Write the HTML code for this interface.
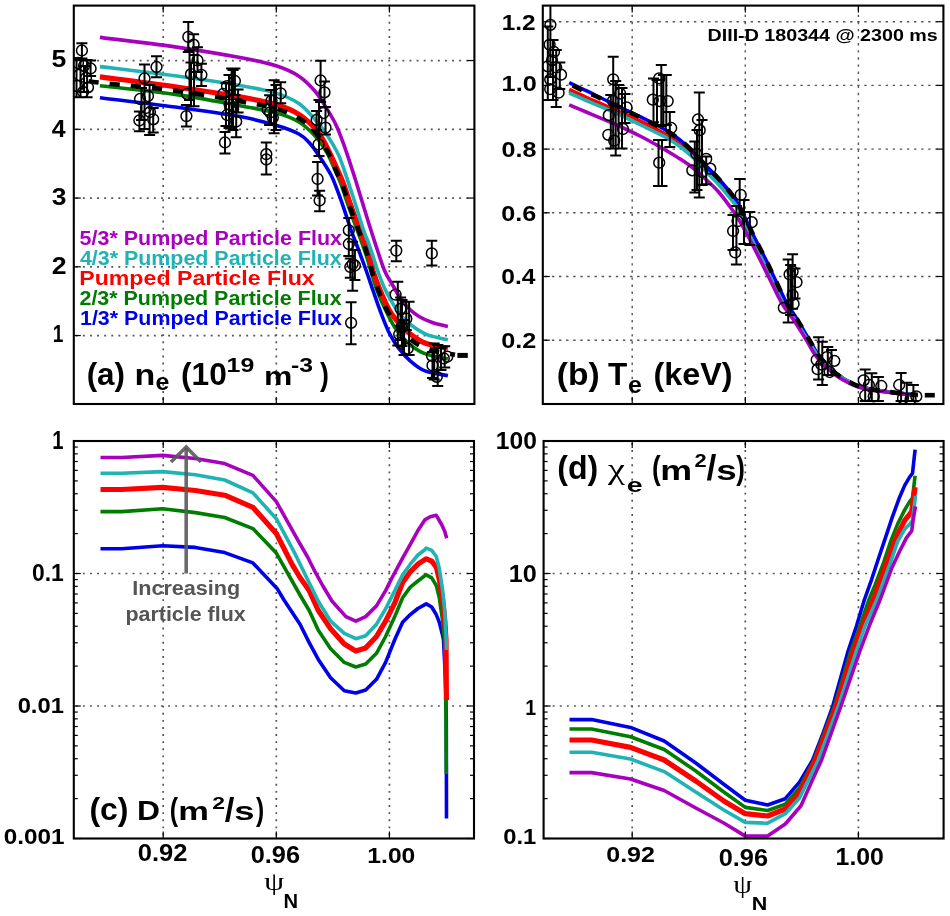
<!DOCTYPE html>
<html><head><meta charset="utf-8"><style>
html,body{margin:0;padding:0;background:#fff;width:950px;height:916px;overflow:hidden}
svg{display:block;filter:blur(0.35px)}

</style></head><body>
<svg width="950" height="916" viewBox="0 0 950 916">
<defs>
<clipPath id="clipa"><rect x="73.8" y="5.6" width="400.59999999999997" height="398.4"/></clipPath>
<clipPath id="clipb"><rect x="542.8" y="5.6" width="400.6" height="398.4"/></clipPath>
<clipPath id="clipc"><rect x="73.8" y="441.0" width="400.2" height="397.5"/></clipPath>
<clipPath id="clipd"><rect x="543.6" y="441.0" width="400.0" height="397.5"/></clipPath>
</defs>
<rect width="950" height="916" fill="#fff"/>
<line x1="163.20" y1="7.6" x2="163.20" y2="402.0" stroke="#555" stroke-width="1.7" stroke-dasharray="1.9 5.2" fill="none"/>
<line x1="276.30" y1="7.6" x2="276.30" y2="402.0" stroke="#555" stroke-width="1.7" stroke-dasharray="1.9 5.2" fill="none"/>
<line x1="389.40" y1="7.6" x2="389.40" y2="402.0" stroke="#555" stroke-width="1.7" stroke-dasharray="1.9 5.2" fill="none"/>
<line x1="75.8" y1="335.55" x2="472.4" y2="335.55" stroke="#555" stroke-width="1.7" stroke-dasharray="1.9 5.2" fill="none"/>
<line x1="75.8" y1="266.80" x2="472.4" y2="266.80" stroke="#555" stroke-width="1.7" stroke-dasharray="1.9 5.2" fill="none"/>
<line x1="75.8" y1="198.05" x2="472.4" y2="198.05" stroke="#555" stroke-width="1.7" stroke-dasharray="1.9 5.2" fill="none"/>
<line x1="75.8" y1="129.30" x2="472.4" y2="129.30" stroke="#555" stroke-width="1.7" stroke-dasharray="1.9 5.2" fill="none"/>
<line x1="75.8" y1="60.55" x2="472.4" y2="60.55" stroke="#555" stroke-width="1.7" stroke-dasharray="1.9 5.2" fill="none"/>
<line x1="632.20" y1="7.6" x2="632.20" y2="402.0" stroke="#555" stroke-width="1.4" stroke-dasharray="2.4 4.7" fill="none"/>
<line x1="745.30" y1="7.6" x2="745.30" y2="402.0" stroke="#555" stroke-width="1.4" stroke-dasharray="2.4 4.7" fill="none"/>
<line x1="858.40" y1="7.6" x2="858.40" y2="402.0" stroke="#555" stroke-width="1.4" stroke-dasharray="2.4 4.7" fill="none"/>
<line x1="544.8" y1="340.20" x2="941.4" y2="340.20" stroke="#555" stroke-width="1.4" stroke-dasharray="2.4 4.7" fill="none"/>
<line x1="544.8" y1="276.50" x2="941.4" y2="276.50" stroke="#555" stroke-width="1.4" stroke-dasharray="2.4 4.7" fill="none"/>
<line x1="544.8" y1="212.80" x2="941.4" y2="212.80" stroke="#555" stroke-width="1.4" stroke-dasharray="2.4 4.7" fill="none"/>
<line x1="544.8" y1="149.10" x2="941.4" y2="149.10" stroke="#555" stroke-width="1.4" stroke-dasharray="2.4 4.7" fill="none"/>
<line x1="544.8" y1="85.40" x2="941.4" y2="85.40" stroke="#555" stroke-width="1.4" stroke-dasharray="2.4 4.7" fill="none"/>
<line x1="544.8" y1="21.70" x2="941.4" y2="21.70" stroke="#555" stroke-width="1.4" stroke-dasharray="2.4 4.7" fill="none"/>
<line x1="163.20" y1="443.0" x2="163.20" y2="836.5" stroke="#555" stroke-width="1.7" stroke-dasharray="1.9 5.2" fill="none"/>
<line x1="276.30" y1="443.0" x2="276.30" y2="836.5" stroke="#555" stroke-width="1.7" stroke-dasharray="1.9 5.2" fill="none"/>
<line x1="389.40" y1="443.0" x2="389.40" y2="836.5" stroke="#555" stroke-width="1.7" stroke-dasharray="1.9 5.2" fill="none"/>
<line x1="75.8" y1="573.50" x2="472.0" y2="573.50" stroke="#555" stroke-width="1.7" stroke-dasharray="1.9 5.2" fill="none"/>
<line x1="75.8" y1="706.00" x2="472.0" y2="706.00" stroke="#555" stroke-width="1.7" stroke-dasharray="1.9 5.2" fill="none"/>
<line x1="632.20" y1="443.0" x2="632.20" y2="836.5" stroke="#555" stroke-width="1.7" stroke-dasharray="1.9 5.2" fill="none"/>
<line x1="745.30" y1="443.0" x2="745.30" y2="836.5" stroke="#555" stroke-width="1.7" stroke-dasharray="1.9 5.2" fill="none"/>
<line x1="858.40" y1="443.0" x2="858.40" y2="836.5" stroke="#555" stroke-width="1.7" stroke-dasharray="1.9 5.2" fill="none"/>
<line x1="545.6" y1="573.50" x2="941.6" y2="573.50" stroke="#555" stroke-width="1.7" stroke-dasharray="1.9 5.2" fill="none"/>
<line x1="545.6" y1="706.00" x2="941.6" y2="706.00" stroke="#555" stroke-width="1.7" stroke-dasharray="1.9 5.2" fill="none"/>
<path d="M99.90,97.70 C112.42,99.25 151.65,103.85 175.00,107.00 C198.35,110.15 223.17,113.55 240.00,116.60 C256.83,119.65 266.18,122.40 276.00,125.30 C285.82,128.20 293.23,130.97 298.90,134.00 C304.57,137.03 306.40,139.50 310.00,143.50 C313.60,147.50 317.00,152.75 320.50,158.00 C324.00,163.25 328.17,169.55 331.00,175.00 C333.83,180.45 335.32,185.02 337.50,190.70 C339.68,196.38 341.85,202.55 344.10,209.10 C346.35,215.65 348.77,223.68 351.00,230.00 C353.23,236.32 355.00,240.33 357.50,247.00 C360.00,253.67 363.38,262.67 366.00,270.00 C368.62,277.33 370.70,283.83 373.20,291.00 C375.70,298.17 378.28,305.92 381.00,313.00 C383.72,320.08 386.57,327.65 389.50,333.50 C392.43,339.35 395.07,343.47 398.60,348.10 C402.13,352.73 406.28,357.50 410.70,361.30 C415.12,365.10 418.90,368.50 425.10,370.90 C431.30,373.30 444.10,374.90 447.90,375.70" fill="none" stroke="#0000e8" stroke-width="3.6" stroke-linejoin="round" stroke-linecap="butt" clip-path="url(#clipa)"/>
<path d="M99.90,85.70 C112.42,87.15 151.65,91.07 175.00,94.40 C198.35,97.73 223.17,102.63 240.00,105.70 C256.83,108.77 266.18,110.08 276.00,112.80 C285.82,115.52 292.35,118.10 298.90,122.00 C305.45,125.90 310.62,131.07 315.30,136.20 C319.98,141.33 323.73,147.20 327.00,152.80 C330.27,158.40 332.48,164.35 334.90,169.80 C337.32,175.25 339.53,180.27 341.50,185.50 C343.47,190.73 344.73,195.52 346.70,201.20 C348.67,206.88 350.75,212.62 353.30,219.60 C355.85,226.58 359.67,236.57 362.00,243.10 C364.33,249.63 365.88,254.32 367.30,258.80 C368.72,263.28 368.88,264.73 370.50,270.00 C372.12,275.27 374.52,283.78 377.00,290.40 C379.48,297.02 382.40,303.48 385.40,309.70 C388.40,315.92 391.38,322.30 395.00,327.70 C398.62,333.10 402.88,338.10 407.10,342.10 C411.32,346.10 416.10,349.40 420.30,351.70 C424.50,354.00 427.70,354.70 432.30,355.90 C436.90,357.10 445.30,358.40 447.90,358.90" fill="none" stroke="#007d00" stroke-width="3.6" stroke-linejoin="round" stroke-linecap="butt" clip-path="url(#clipa)"/>
<path d="M99.90,76.90 C112.42,78.55 151.65,83.47 175.00,86.80 C198.35,90.13 223.17,93.93 240.00,96.90 C256.83,99.87 266.18,101.68 276.00,104.60 C285.82,107.52 292.35,110.40 298.90,114.40 C305.45,118.40 311.45,124.67 315.30,128.60 C319.15,132.53 319.60,133.97 322.00,138.00 C324.40,142.03 327.12,147.50 329.70,152.80 C332.28,158.10 335.10,164.35 337.50,169.80 C339.90,175.25 342.13,180.27 344.10,185.50 C346.07,190.73 347.33,195.52 349.30,201.20 C351.27,206.88 353.33,212.62 355.90,219.60 C358.47,226.58 362.37,236.57 364.70,243.10 C367.03,249.63 368.52,254.15 369.90,258.80 C371.28,263.45 371.35,265.88 373.00,271.00 C374.65,276.12 377.13,283.05 379.80,289.50 C382.47,295.95 385.87,304.13 389.00,309.70 C392.13,315.27 395.38,319.10 398.60,322.90 C401.82,326.70 404.28,329.30 408.30,332.50 C412.32,335.70 418.25,339.88 422.70,342.10 C427.15,344.32 430.80,344.80 435.00,345.80 C439.20,346.80 445.75,347.72 447.90,348.10" fill="none" stroke="#ff0000" stroke-width="5.2" stroke-linejoin="round" stroke-linecap="butt" clip-path="url(#clipa)"/>
<path d="M99.90,66.60 C112.42,68.13 151.65,72.65 175.00,75.80 C198.35,78.95 223.17,82.62 240.00,85.50 C256.83,88.38 266.18,90.10 276.00,93.10 C285.82,96.10 292.35,99.05 298.90,103.50 C305.45,107.95 310.62,114.55 315.30,119.80 C319.98,125.05 323.30,129.50 327.00,135.00 C330.70,140.50 334.65,147.00 337.50,152.80 C340.35,158.60 341.27,161.73 344.10,169.80 C346.93,177.87 351.27,191.17 354.50,201.20 C357.73,211.23 361.15,223.02 363.50,230.00 C365.85,236.98 366.88,238.30 368.60,243.10 C370.32,247.90 372.15,253.82 373.80,258.80 C375.45,263.78 376.77,268.22 378.50,273.00 C380.23,277.78 382.05,282.80 384.20,287.50 C386.35,292.20 388.60,296.50 391.40,301.20 C394.20,305.90 397.38,311.48 401.00,315.70 C404.62,319.92 408.68,323.30 413.10,326.50 C417.52,329.70 421.70,332.68 427.50,334.90 C433.30,337.12 444.50,338.98 447.90,339.80" fill="none" stroke="#1fb3b3" stroke-width="3.6" stroke-linejoin="round" stroke-linecap="butt" clip-path="url(#clipa)"/>
<path d="M99.90,37.40 C112.42,38.98 151.65,43.53 175.00,46.90 C198.35,50.27 223.17,54.45 240.00,57.60 C256.83,60.75 266.18,62.70 276.00,65.80 C285.82,68.90 292.35,71.92 298.90,76.20 C305.45,80.48 310.68,86.13 315.30,91.50 C319.92,96.87 323.07,102.65 326.60,108.40 C330.13,114.15 333.15,118.60 336.50,126.00 C339.85,133.40 343.25,142.88 346.70,152.80 C350.15,162.72 353.72,174.37 357.20,185.50 C360.68,196.63 364.62,210.00 367.60,219.60 C370.58,229.20 372.28,234.62 375.10,243.10 C377.92,251.58 381.68,263.68 384.50,270.50 C387.32,277.32 389.42,279.50 392.00,284.00 C394.58,288.50 397.28,293.50 400.00,297.50 C402.72,301.50 405.13,304.83 408.30,308.00 C411.47,311.17 415.00,314.08 419.00,316.50 C423.00,318.92 427.48,320.83 432.30,322.50 C437.12,324.17 445.30,325.83 447.90,326.50" fill="none" stroke="#a800bf" stroke-width="3.6" stroke-linejoin="round" stroke-linecap="butt" clip-path="url(#clipa)"/>
<path d="M88.70,81.20 C90.57,81.45 85.52,81.13 99.90,82.70 C114.28,84.27 151.65,87.50 175.00,90.60 C198.35,93.70 223.17,98.28 240.00,101.30 C256.83,104.32 266.18,105.88 276.00,108.70 C285.82,111.52 292.35,114.25 298.90,118.20 C305.45,122.15 310.28,126.43 315.30,132.40 C320.32,138.37 325.55,147.65 329.00,154.00 C332.45,160.35 333.70,165.17 336.00,170.50 C338.30,175.83 340.80,180.88 342.80,186.00 C344.80,191.12 346.03,195.60 348.00,201.20 C349.97,206.80 352.03,212.62 354.60,219.60 C357.17,226.58 361.07,236.57 363.40,243.10 C365.73,249.63 367.00,253.52 368.60,258.80 C370.20,264.08 370.98,268.53 373.00,274.80 C375.02,281.07 377.95,289.78 380.70,296.40 C383.45,303.02 386.28,309.07 389.50,314.50 C392.72,319.93 396.58,324.92 400.00,329.00 C403.42,333.08 406.62,336.20 410.00,339.00 C413.38,341.80 416.13,343.80 420.30,345.80 C424.47,347.80 430.40,349.72 435.00,351.00 C439.60,352.28 444.57,352.87 447.90,353.50 C451.23,354.13 453.82,354.58 455.00,354.80" fill="none" stroke="#000" stroke-width="4.6" stroke-linejoin="round" stroke-linecap="butt" stroke-dasharray="10.2 11" clip-path="url(#clipa)"/>
<line x1="457.4" y1="355.4" x2="467.8" y2="355.4" stroke="#000" stroke-width="5"/>
<path d="M569.20,91.25 C572.03,92.53 580.53,96.41 586.20,98.90 C591.87,101.39 596.65,103.35 603.20,106.20 C609.75,109.05 619.37,113.24 625.50,116.00 C631.63,118.76 635.40,120.54 640.00,122.75 C644.60,124.96 648.73,127.04 653.10,129.25 C657.47,131.46 661.83,133.46 666.20,136.00 C670.57,138.54 674.93,141.29 679.30,144.50 C683.67,147.71 688.03,151.17 692.40,155.25 C696.77,159.33 701.13,164.46 705.50,169.00 C709.87,173.54 714.23,177.62 718.60,182.50 C722.97,187.38 728.13,193.67 731.70,198.25 C735.27,202.83 737.78,206.04 740.00,210.00 C742.22,213.96 742.88,217.33 745.00,222.00 C747.12,226.67 749.47,231.52 752.70,238.00 C755.93,244.48 761.25,254.53 764.40,260.90 C767.55,267.27 768.24,269.23 771.60,276.20 C774.96,283.17 780.59,295.55 784.57,302.70 C788.56,309.85 791.51,312.85 795.51,319.10 C799.51,325.35 804.57,333.83 808.57,340.20 C812.58,346.57 814.91,351.72 819.53,357.30 C824.14,362.88 830.62,369.23 836.27,373.70 C841.91,378.17 848.03,381.58 853.40,384.10 C858.77,386.62 862.82,387.53 868.50,388.80 C874.18,390.07 881.82,390.90 887.50,391.70 C893.18,392.50 897.55,393.07 902.60,393.60 C907.65,394.13 915.27,394.68 917.80,394.90" fill="none" stroke="#007d00" stroke-width="3.6" stroke-linejoin="round" stroke-linecap="butt" clip-path="url(#clipb)"/>
<path d="M569.20,89.50 C572.03,90.80 580.53,94.77 586.20,97.30 C591.87,99.83 596.65,101.83 603.20,104.70 C609.75,107.57 619.37,111.78 625.50,114.50 C631.63,117.22 635.40,118.83 640.00,121.00 C644.60,123.17 648.73,125.25 653.10,127.50 C657.47,129.75 661.83,131.92 666.20,134.50 C670.57,137.08 674.93,139.83 679.30,143.00 C683.67,146.17 688.03,149.50 692.40,153.50 C696.77,157.50 701.13,162.50 705.50,167.00 C709.87,171.50 714.23,175.58 718.60,180.50 C722.97,185.42 728.13,191.75 731.70,196.50 C735.27,201.25 737.78,204.75 740.00,209.00 C742.22,213.25 742.88,217.17 745.00,222.00 C747.12,226.83 749.47,231.52 752.70,238.00 C755.93,244.48 761.25,254.53 764.40,260.90 C767.55,267.27 768.24,269.23 771.60,276.20 C774.96,283.17 780.59,295.55 784.57,302.70 C788.56,309.85 791.51,312.85 795.51,319.10 C799.51,325.35 804.57,333.83 808.57,340.20 C812.58,346.57 814.91,351.72 819.53,357.30 C824.14,362.88 830.62,369.23 836.27,373.70 C841.91,378.17 848.03,381.58 853.40,384.10 C858.77,386.62 862.82,387.53 868.50,388.80 C874.18,390.07 881.82,390.90 887.50,391.70 C893.18,392.50 897.55,393.07 902.60,393.60 C907.65,394.13 915.27,394.68 917.80,394.90" fill="none" stroke="#ff0000" stroke-width="3.6" stroke-linejoin="round" stroke-linecap="butt" clip-path="url(#clipb)"/>
<path d="M569.20,82.60 C572.03,83.93 580.53,87.87 586.20,90.60 C591.87,93.33 596.65,95.80 603.20,99.00 C609.75,102.20 619.37,106.85 625.50,109.80 C631.63,112.75 635.40,114.45 640.00,116.70 C644.60,118.95 648.73,121.03 653.10,123.30 C657.47,125.57 661.83,127.63 666.20,130.30 C670.57,132.97 674.93,135.83 679.30,139.30 C683.67,142.77 688.03,146.77 692.40,151.10 C696.77,155.43 701.13,160.68 705.50,165.30 C709.87,169.92 714.23,173.95 718.60,178.80 C722.97,183.65 728.13,189.62 731.70,194.40 C735.27,199.18 737.45,202.90 740.00,207.50 C742.55,212.10 744.55,216.92 747.00,222.00 C749.45,227.08 751.47,231.52 754.70,238.00 C757.93,244.48 763.25,254.53 766.40,260.90 C769.55,267.27 770.25,269.23 773.60,276.20 C776.95,283.17 782.60,295.55 786.50,302.70 C790.40,309.85 793.17,312.85 797.00,319.10 C800.83,325.35 805.67,333.83 809.50,340.20 C813.33,346.57 815.53,351.72 820.00,357.30 C824.47,362.88 830.73,369.23 836.30,373.70 C841.87,378.17 848.03,381.58 853.40,384.10 C858.77,386.62 862.82,387.53 868.50,388.80 C874.18,390.07 881.82,390.90 887.50,391.70 C893.18,392.50 897.55,393.07 902.60,393.60 C907.65,394.13 915.27,394.68 917.80,394.90" fill="none" stroke="#0000e8" stroke-width="3.6" stroke-linejoin="round" stroke-linecap="butt" clip-path="url(#clipb)"/>
<path d="M569.20,93.00 C572.03,94.25 580.53,98.05 586.20,100.50 C591.87,102.95 596.65,104.87 603.20,107.70 C609.75,110.53 619.37,114.70 625.50,117.50 C631.63,120.30 635.40,122.25 640.00,124.50 C644.60,126.75 648.73,128.83 653.10,131.00 C657.47,133.17 661.83,135.00 666.20,137.50 C670.57,140.00 674.93,142.75 679.30,146.00 C683.67,149.25 688.03,152.83 692.40,157.00 C696.77,161.17 701.13,166.42 705.50,171.00 C709.87,175.58 714.23,179.67 718.60,184.50 C722.97,189.33 728.13,195.58 731.70,200.00 C735.27,204.42 738.07,207.33 740.00,211.00 C741.93,214.67 741.47,217.50 743.30,222.00 C745.13,226.50 747.77,231.52 751.00,238.00 C754.23,244.48 759.55,254.53 762.70,260.90 C765.85,267.27 766.53,269.23 769.90,276.20 C773.27,283.17 778.88,295.55 782.93,302.70 C786.99,309.85 790.10,312.85 794.24,319.10 C798.38,325.35 803.64,333.83 807.78,340.20 C811.93,346.57 814.38,351.72 819.13,357.30 C823.87,362.88 830.52,369.23 836.24,373.70 C841.95,378.17 848.02,381.58 853.40,384.10 C858.78,386.62 862.82,387.53 868.50,388.80 C874.18,390.07 881.82,390.90 887.50,391.70 C893.18,392.50 897.55,393.07 902.60,393.60 C907.65,394.13 915.27,394.68 917.80,394.90" fill="none" stroke="#1fb3b3" stroke-width="3.6" stroke-linejoin="round" stroke-linecap="butt" clip-path="url(#clipb)"/>
<path d="M569.20,104.80 C572.03,106.00 580.53,109.60 586.20,112.00 C591.87,114.40 596.65,116.37 603.20,119.20 C609.75,122.03 619.37,126.20 625.50,129.00 C631.63,131.80 635.40,133.67 640.00,136.00 C644.60,138.33 648.73,140.58 653.10,143.00 C657.47,145.42 661.83,147.92 666.20,150.50 C670.57,153.08 674.93,155.67 679.30,158.50 C683.67,161.33 688.03,164.08 692.40,167.50 C696.77,170.92 701.13,174.92 705.50,179.00 C709.87,183.08 714.23,187.00 718.60,192.00 C722.97,197.00 728.13,204.08 731.70,209.00 C735.27,213.92 737.12,216.67 740.00,221.50 C742.88,226.33 745.55,231.43 749.00,238.00 C752.45,244.57 757.48,254.53 760.70,260.90 C763.92,267.27 764.83,269.23 768.30,276.20 C771.77,283.17 777.38,295.55 781.50,302.70 C785.62,309.85 788.83,312.85 793.00,319.10 C797.17,325.35 802.50,333.83 806.50,340.20 C810.50,346.57 812.33,351.63 817.00,357.30 C821.67,362.97 828.43,369.58 834.50,374.20 C840.57,378.82 847.73,382.45 853.40,385.00 C859.07,387.55 862.82,388.30 868.50,389.50 C874.18,390.70 881.82,391.45 887.50,392.20 C893.18,392.95 897.55,393.50 902.60,394.00 C907.65,394.50 915.27,395.00 917.80,395.20" fill="none" stroke="#a800bf" stroke-width="3.6" stroke-linejoin="round" stroke-linecap="butt" clip-path="url(#clipb)"/>
<path d="M572.60,85.50 C574.87,86.58 581.10,89.67 586.20,92.00 C591.30,94.33 596.65,96.45 603.20,99.50 C609.75,102.55 619.37,107.35 625.50,110.30 C631.63,113.25 635.40,114.95 640.00,117.20 C644.60,119.45 648.73,121.58 653.10,123.80 C657.47,126.02 661.83,127.88 666.20,130.50 C670.57,133.12 674.93,136.07 679.30,139.50 C683.67,142.93 688.03,146.80 692.40,151.10 C696.77,155.40 701.13,160.68 705.50,165.30 C709.87,169.92 714.23,173.95 718.60,178.80 C722.97,183.65 728.13,189.62 731.70,194.40 C735.27,199.18 737.45,202.90 740.00,207.50 C742.55,212.10 744.55,216.92 747.00,222.00 C749.45,227.08 751.47,231.52 754.70,238.00 C757.93,244.48 763.25,254.53 766.40,260.90 C769.55,267.27 770.25,269.23 773.60,276.20 C776.95,283.17 782.60,295.55 786.50,302.70 C790.40,309.85 793.17,312.85 797.00,319.10 C800.83,325.35 805.67,333.83 809.50,340.20 C813.33,346.57 815.53,351.72 820.00,357.30 C824.47,362.88 830.73,369.23 836.30,373.70 C841.87,378.17 848.03,381.58 853.40,384.10 C858.77,386.62 862.82,387.53 868.50,388.80 C874.18,390.07 881.82,390.90 887.50,391.70 C893.18,392.50 897.55,393.07 902.60,393.60 C907.65,394.13 915.27,394.68 917.80,394.90" fill="none" stroke="#000" stroke-width="4.6" stroke-linejoin="round" stroke-linecap="butt" stroke-dasharray="10.5 10.5" clip-path="url(#clipb)"/>
<line x1="924.8" y1="395.2" x2="934.8" y2="395.2" stroke="#000" stroke-width="4.6"/>
<path d="M100.50,548.80 L121.60,548.80 L162.60,545.70 L195.30,547.40 L224.70,552.60 L252.90,562.90 L277.50,589.10 L284.00,600.00 L300.00,624.20 L309.20,642.60 L318.30,659.40 L330.60,677.70 L344.30,690.70 L355.80,693.00 L365.70,690.00 L376.50,679.30 L385.60,662.40 L394.80,639.50 L402.60,622.30 L410.30,614.60 L417.90,608.50 L424.80,604.70 L426.30,603.90 L431.70,607.00 L436.30,614.60 L439.30,622.30 L442.40,634.50 L443.50,640.00 L445.50,680.00 L446.30,720.00 L446.50,818.50" fill="none" stroke="#0000e8" stroke-width="3.6" stroke-linejoin="round" stroke-linecap="butt" clip-path="url(#clipc)"/>
<path d="M100.50,511.60 L121.60,511.60 L162.60,508.80 L195.30,512.60 L224.70,517.50 L252.90,528.60 L276.30,553.10 L300.00,595.00 L309.20,610.50 L318.30,630.30 L330.60,648.70 L344.30,662.40 L355.80,667.00 L365.70,664.00 L376.50,653.30 L385.60,636.50 L394.80,616.60 L402.60,597.80 L410.30,587.10 L417.90,581.00 L424.80,575.70 L426.30,574.90 L431.70,577.90 L436.30,585.60 L439.30,597.80 L442.40,619.20 L444.50,640.00 L445.80,690.00 L446.30,774.00" fill="none" stroke="#007d00" stroke-width="3.6" stroke-linejoin="round" stroke-linecap="butt" clip-path="url(#clipc)"/>
<path d="M100.50,489.50 L121.60,489.50 L162.60,487.40 L195.30,490.50 L224.70,495.20 L252.90,507.30 L276.30,533.50 L292.20,564.60 L300.00,577.50 L309.20,590.60 L318.30,610.50 L330.60,628.80 L344.30,644.10 L355.80,651.00 L365.70,647.90 L376.50,636.50 L385.60,621.20 L394.80,602.80 L402.60,582.50 L410.30,571.80 L417.90,564.20 L424.80,559.60 L426.30,558.80 L431.70,561.10 L436.30,567.20 L439.30,579.50 L442.40,597.80 L444.70,619.20 L446.00,640.00 L446.40,700.00" fill="none" stroke="#ff0000" stroke-width="5.2" stroke-linejoin="round" stroke-linecap="butt" clip-path="url(#clipc)"/>
<path d="M100.50,473.30 L121.60,473.30 L162.60,471.60 L195.30,474.70 L224.70,480.00 L252.90,492.90 L276.30,518.70 L295.50,554.70 L309.20,582.90 L318.30,601.30 L330.60,621.20 L344.30,633.40 L355.80,638.70 L365.70,635.70 L376.50,624.20 L385.60,608.90 L394.80,590.60 L402.60,574.90 L410.30,564.20 L417.90,555.00 L424.80,549.70 L426.30,548.10 L431.70,550.40 L436.30,556.50 L439.30,568.80 L442.40,588.60 L444.70,610.00 L446.20,640.00 L446.50,650.00" fill="none" stroke="#1fb3b3" stroke-width="3.6" stroke-linejoin="round" stroke-linecap="butt" clip-path="url(#clipc)"/>
<path d="M100.50,457.50 L121.60,457.50 L162.60,455.40 L195.30,458.50 L224.70,463.60 L252.90,475.40 L276.30,501.60 L298.70,541.70 L307.60,557.00 L315.30,572.20 L322.90,586.00 L332.10,601.30 L345.90,616.60 L355.80,621.20 L365.70,616.60 L376.50,605.90 L385.60,590.60 L393.30,575.30 L402.60,558.10 L410.30,544.30 L417.90,530.60 L424.80,519.90 L430.20,516.80 L436.30,515.30 L441.60,524.50 L444.70,531.30 L446.70,538.20" fill="none" stroke="#a800bf" stroke-width="3.6" stroke-linejoin="round" stroke-linecap="butt" clip-path="url(#clipc)"/>
<path d="M569.50,719.60 L591.60,719.60 L630.50,727.40 L664.20,741.00 L695.80,763.00 L723.80,784.20 L745.30,800.30 L767.60,805.00 L785.30,798.70 L799.50,782.10 L812.70,760.00 L822.00,736.00 L832.80,706.00 L847.70,652.40 L856.40,626.20 L864.30,600.00 L871.50,579.80 L878.40,558.80 L885.40,537.90 L892.40,516.90 L899.40,497.70 L904.70,485.40 L909.90,476.70 L912.50,473.20 L915.10,449.60" fill="none" stroke="#0000e8" stroke-width="3.6" stroke-linejoin="round" stroke-linecap="butt" clip-path="url(#clipd)"/>
<path d="M569.50,729.00 L591.60,729.00 L630.50,736.80 L664.20,749.50 L695.80,771.00 L723.80,792.00 L745.30,807.40 L767.60,810.50 L785.30,804.20 L799.50,788.00 L814.00,760.00 L834.50,706.00 L850.50,652.00 L858.50,630.00 L868.80,600.00 L875.00,585.10 L883.70,562.30 L890.70,541.40 L897.70,523.90 L904.70,509.90 L909.90,501.20 L912.50,497.70 L915.10,475.80" fill="none" stroke="#007d00" stroke-width="3.6" stroke-linejoin="round" stroke-linecap="butt" clip-path="url(#clipd)"/>
<path d="M569.50,740.00 L591.60,740.00 L630.50,747.40 L664.20,760.00 L695.80,781.00 L723.80,801.00 L745.30,813.70 L767.60,816.00 L785.30,809.00 L799.50,793.00 L815.50,760.00 L836.30,706.00 L853.00,652.00 L861.00,630.00 L873.20,600.00 L883.70,571.10 L890.70,551.80 L897.70,534.40 L904.70,520.40 L909.00,515.10 L911.70,511.70 L915.10,487.20" fill="none" stroke="#ff0000" stroke-width="5.2" stroke-linejoin="round" stroke-linecap="butt" clip-path="url(#clipd)"/>
<path d="M569.50,752.20 L591.60,752.20 L630.50,759.00 L664.20,771.60 L695.80,792.00 L723.80,810.00 L745.30,822.40 L767.60,823.20 L785.30,813.70 L799.50,798.00 L818.30,760.00 L838.50,706.00 L856.00,652.00 L865.00,626.00 L876.70,600.00 L884.00,580.00 L890.70,562.00 L897.70,541.40 L904.70,529.10 L909.90,523.90 L912.50,520.40 L915.50,495.90" fill="none" stroke="#1fb3b3" stroke-width="3.6" stroke-linejoin="round" stroke-linecap="butt" clip-path="url(#clipd)"/>
<path d="M569.50,772.60 L591.60,772.60 L630.50,779.00 L664.20,790.50 L695.80,808.00 L723.80,823.00 L745.30,836.10 L767.60,836.10 L785.30,824.00 L801.00,805.80 L811.50,782.00 L821.60,760.00 L841.00,706.00 L860.00,650.70 L870.00,624.00 L880.00,600.00 L891.70,568.30 L899.40,551.80 L906.40,537.90 L911.70,530.90 L913.40,518.60 L915.50,506.40" fill="none" stroke="#a800bf" stroke-width="3.6" stroke-linejoin="round" stroke-linecap="butt" clip-path="url(#clipd)"/>
<g stroke="#5a5a5a" stroke-opacity="0.9" stroke-width="3.6" fill="none" stroke-linecap="butt"><line x1="186.2" y1="448" x2="186.2" y2="573.5"/><polyline points="171,462 186.2,447 201,462" stroke-linejoin="miter"/></g>
<g clip-path="url(#clipa)" stroke="#000" fill="none">
<path d="M81.9,43.3V58.4M76.4,43.3h11M76.4,58.4h11M90.6,60.6V76.0M85.1,60.6h11M85.1,76.0h11M76.5,58.0V97.3M71.0,58.0h11M71.0,97.3h11M80.5,60.0V97.3M75.0,60.0h11M75.0,97.3h11M87.1,60.0V97.3M81.6,60.0h11M81.6,97.3h11M84.0,66.0V92.0M78.5,66.0h11M78.5,92.0h11M156.5,56.2V77.3M151.0,56.2h11M151.0,77.3h11M144.5,64.6V129.0M139.0,64.6h11M139.0,129.0h11M141.5,88.0V120.0M136.0,88.0h11M136.0,120.0h11M149.6,85.0V135.0M144.1,85.0h11M144.1,135.0h11M153.2,108.0V132.5M147.7,108.0h11M147.7,132.5h11M139.4,111.5V131.3M133.9,111.5h11M133.9,131.3h11M188.3,22.0V51.9M182.8,22.0h11M182.8,51.9h11M193.6,34.2V62.4M188.1,34.2h11M188.1,62.4h11M197.5,47.3V72.0M192.0,47.3h11M192.0,72.0h11M201.4,63.7V86.0M195.9,63.7h11M195.9,86.0h11M191.0,62.4V106.3M185.5,62.4h11M185.5,106.3h11M189.5,50.0V100.0M184.0,50.0h11M184.0,100.0h11M194.0,55.0V106.3M188.5,55.0h11M188.5,106.3h11M186.4,105.0V126.6M180.9,105.0h11M180.9,126.6h11M234.9,68.5V95.0M229.4,68.5h11M229.4,95.0h11M231.6,68.5V128.0M226.1,68.5h11M226.1,128.0h11M229.0,75.0V128.0M223.5,75.0h11M223.5,128.0h11M233.0,70.0V130.0M227.5,70.0h11M227.5,130.0h11M238.1,89.5V112.4M232.6,89.5h11M232.6,112.4h11M236.2,99.3V137.2M230.7,99.3h11M230.7,137.2h11M226.0,83.0V126.0M220.5,83.0h11M220.5,126.0h11M225.0,132.0V153.6M219.5,132.0h11M219.5,153.6h11M280.7,82.3V103.2M275.2,82.3h11M275.2,103.2h11M274.1,80.3V133.3M268.6,80.3h11M268.6,133.3h11M271.0,90.0V125.0M265.5,90.0h11M265.5,125.0h11M276.0,85.0V130.0M270.5,85.0h11M270.5,130.0h11M269.6,95.3V125.0M264.1,95.3h11M264.1,125.0h11M266.3,142.5V174.5M260.8,142.5h11M260.8,174.5h11M320.6,60.8V102.0M315.1,60.8h11M315.1,102.0h11M324.5,81.5V107.0M319.0,81.5h11M319.0,107.0h11M316.6,111.0V130.0M311.1,111.0h11M311.1,130.0h11M325.5,107.0V134.6M320.0,107.0h11M320.0,134.6h11M319.0,100.0V156.0M313.5,100.0h11M313.5,156.0h11M317.6,162.1V195.6M312.1,162.1h11M312.1,195.6h11M319.6,190.7V211.3M314.1,190.7h11M314.1,211.3h11M348.8,218.0V256.0M343.3,218.0h11M343.3,256.0h11M352.6,241.8V290.7M347.1,241.8h11M347.1,290.7h11M350.3,258.6V277.7M344.8,258.6h11M344.8,277.7h11M354.9,250.0V280.0M349.4,250.0h11M349.4,280.0h11M351.1,302.2V344.2M345.6,302.2h11M345.6,344.2h11M396.3,240.7V261.2M390.8,240.7h11M390.8,261.2h11M431.8,240.7V265.5M426.3,240.7h11M426.3,265.5h11M397.8,281.8V345.6M392.3,281.8h11M392.3,345.6h11M400.6,297.4V340.0M395.1,297.4h11M395.1,340.0h11M402.0,300.0V346.0M396.5,300.0h11M396.5,346.0h11M406.3,301.7V330.0M400.8,301.7h11M400.8,330.0h11M409.1,301.7V354.9M403.6,301.7h11M403.6,354.9h11M404.0,320.0V354.9M398.5,320.0h11M398.5,354.9h11M434.2,343.6V379.4M428.7,343.6h11M428.7,379.4h11M437.7,345.0V386.0M432.2,345.0h11M432.2,386.0h11M444.7,346.2V367.6M439.2,346.2h11M439.2,367.6h11M432.5,352.0V378.0M427.0,352.0h11M427.0,378.0h11M441.0,348.0V370.0M435.5,348.0h11M435.5,370.0h11" stroke-width="2.0"/>
<circle cx="81.9" cy="50.5" r="5.4" stroke-width="1.5"/>
<circle cx="78.0" cy="63.0" r="5.4" stroke-width="1.5"/>
<circle cx="84.0" cy="66.0" r="5.4" stroke-width="1.5"/>
<circle cx="90.6" cy="68.5" r="5.4" stroke-width="1.5"/>
<circle cx="79.0" cy="75.0" r="5.4" stroke-width="1.5"/>
<circle cx="86.0" cy="78.0" r="5.4" stroke-width="1.5"/>
<circle cx="77.0" cy="86.0" r="5.4" stroke-width="1.5"/>
<circle cx="88.0" cy="87.3" r="5.4" stroke-width="1.5"/>
<circle cx="83.0" cy="92.0" r="5.4" stroke-width="1.5"/>
<circle cx="156.5" cy="67.0" r="5.4" stroke-width="1.5"/>
<circle cx="144.5" cy="78.5" r="5.4" stroke-width="1.5"/>
<circle cx="140.0" cy="99.0" r="5.4" stroke-width="1.5"/>
<circle cx="148.0" cy="96.0" r="5.4" stroke-width="1.5"/>
<circle cx="146.0" cy="108.0" r="5.4" stroke-width="1.5"/>
<circle cx="139.4" cy="120.5" r="5.4" stroke-width="1.5"/>
<circle cx="153.2" cy="119.3" r="5.4" stroke-width="1.5"/>
<circle cx="150.0" cy="112.0" r="5.4" stroke-width="1.5"/>
<circle cx="188.3" cy="36.9" r="5.4" stroke-width="1.5"/>
<circle cx="193.6" cy="44.7" r="5.4" stroke-width="1.5"/>
<circle cx="197.5" cy="60.4" r="5.4" stroke-width="1.5"/>
<circle cx="201.4" cy="74.8" r="5.4" stroke-width="1.5"/>
<circle cx="191.0" cy="74.2" r="5.4" stroke-width="1.5"/>
<circle cx="187.0" cy="93.8" r="5.4" stroke-width="1.5"/>
<circle cx="186.4" cy="116.1" r="5.4" stroke-width="1.5"/>
<circle cx="234.9" cy="81.0" r="5.4" stroke-width="1.5"/>
<circle cx="227.0" cy="86.2" r="5.4" stroke-width="1.5"/>
<circle cx="223.1" cy="94.0" r="5.4" stroke-width="1.5"/>
<circle cx="229.6" cy="104.5" r="5.4" stroke-width="1.5"/>
<circle cx="230.3" cy="108.4" r="5.4" stroke-width="1.5"/>
<circle cx="227.0" cy="115.0" r="5.4" stroke-width="1.5"/>
<circle cx="236.2" cy="121.5" r="5.4" stroke-width="1.5"/>
<circle cx="225.0" cy="142.5" r="5.4" stroke-width="1.5"/>
<circle cx="280.7" cy="93.4" r="5.4" stroke-width="1.5"/>
<circle cx="271.5" cy="100.6" r="5.4" stroke-width="1.5"/>
<circle cx="267.6" cy="109.7" r="5.4" stroke-width="1.5"/>
<circle cx="272.8" cy="117.6" r="5.4" stroke-width="1.5"/>
<circle cx="270.2" cy="112.4" r="5.4" stroke-width="1.5"/>
<circle cx="266.3" cy="154.2" r="5.4" stroke-width="1.5"/>
<circle cx="266.3" cy="159.5" r="5.4" stroke-width="1.5"/>
<circle cx="320.6" cy="80.5" r="5.4" stroke-width="1.5"/>
<circle cx="324.5" cy="92.3" r="5.4" stroke-width="1.5"/>
<circle cx="323.5" cy="113.0" r="5.4" stroke-width="1.5"/>
<circle cx="316.6" cy="119.8" r="5.4" stroke-width="1.5"/>
<circle cx="325.5" cy="127.7" r="5.4" stroke-width="1.5"/>
<circle cx="318.6" cy="144.4" r="5.4" stroke-width="1.5"/>
<circle cx="317.6" cy="178.9" r="5.4" stroke-width="1.5"/>
<circle cx="319.6" cy="200.5" r="5.4" stroke-width="1.5"/>
<circle cx="348.8" cy="230.3" r="5.4" stroke-width="1.5"/>
<circle cx="348.8" cy="244.0" r="5.4" stroke-width="1.5"/>
<circle cx="352.6" cy="264.0" r="5.4" stroke-width="1.5"/>
<circle cx="350.3" cy="267.0" r="5.4" stroke-width="1.5"/>
<circle cx="354.9" cy="265.5" r="5.4" stroke-width="1.5"/>
<circle cx="351.1" cy="322.8" r="5.4" stroke-width="1.5"/>
<circle cx="396.3" cy="250.6" r="5.4" stroke-width="1.5"/>
<circle cx="431.8" cy="253.4" r="5.4" stroke-width="1.5"/>
<circle cx="395.6" cy="294.6" r="5.4" stroke-width="1.5"/>
<circle cx="400.6" cy="308.8" r="5.4" stroke-width="1.5"/>
<circle cx="406.3" cy="318.7" r="5.4" stroke-width="1.5"/>
<circle cx="402.0" cy="327.2" r="5.4" stroke-width="1.5"/>
<circle cx="399.2" cy="334.3" r="5.4" stroke-width="1.5"/>
<circle cx="407.7" cy="348.5" r="5.4" stroke-width="1.5"/>
<circle cx="400.6" cy="342.8" r="5.4" stroke-width="1.5"/>
<circle cx="432.0" cy="355.8" r="5.4" stroke-width="1.5"/>
<circle cx="432.5" cy="365.4" r="5.4" stroke-width="1.5"/>
<circle cx="436.8" cy="376.8" r="5.4" stroke-width="1.5"/>
<circle cx="447.3" cy="356.7" r="5.4" stroke-width="1.5"/>
<circle cx="443.8" cy="358.4" r="5.4" stroke-width="1.5"/>
</g>
<g clip-path="url(#clipb)" stroke="#000" fill="none">
<path d="M547.8,26.6V99.9M542.3,26.6h11M542.3,99.9h11M550.4,0.0V77.0M544.9,0.0h11M544.9,77.0h11M553.0,40.0V100.0M547.5,40.0h11M547.5,100.0h11M556.2,50.0V107.1M550.7,50.0h11M550.7,107.1h11M559.8,62.4V89.0M554.3,62.4h11M554.3,89.0h11M610.8,95.0V148.6M605.3,95.0h11M605.3,148.6h11M613.2,56.8V148.6M607.7,56.8h11M607.7,148.6h11M615.7,81.0V155.5M610.2,81.0h11M610.2,155.5h11M618.6,85.0V148.6M613.1,85.0h11M613.1,148.6h11M622.0,88.0V148.6M616.5,88.0h11M616.5,148.6h11M625.0,94.0V123.0M619.5,94.0h11M619.5,123.0h11M653.5,78.4V122.3M648.0,78.4h11M648.0,122.3h11M657.0,80.0V125.0M651.5,80.0h11M651.5,125.0h11M661.3,65.0V126.0M655.8,65.0h11M655.8,126.0h11M663.4,75.0V125.0M657.9,75.0h11M657.9,125.0h11M666.3,75.0V125.0M660.8,75.0h11M660.8,125.0h11M669.8,112.0V147.0M664.3,112.0h11M664.3,147.0h11M658.5,140.0V186.1M653.0,140.0h11M653.0,186.1h11M662.0,140.0V186.1M656.5,140.0h11M656.5,186.1h11M699.3,92.5V197.4M693.8,92.5h11M693.8,197.4h11M694.8,141.6V192.5M689.3,141.6h11M689.3,192.5h11M697.0,130.0V190.0M691.5,130.0h11M691.5,190.0h11M702.0,120.0V185.0M696.5,120.0h11M696.5,185.0h11M706.2,156.4V184.3M700.7,156.4h11M700.7,184.3h11M739.7,179.1V214.6M734.2,179.1h11M734.2,214.6h11M736.4,205.9V264.4M730.9,205.9h11M730.9,264.4h11M744.0,200.0V244.1M738.5,200.0h11M738.5,244.1h11M749.9,212.0V245.0M744.4,212.0h11M744.4,245.0h11M733.0,215.0V250.0M727.5,215.0h11M727.5,250.0h11M788.2,259.6V322.5M782.7,259.6h11M782.7,322.5h11M790.6,265.0V315.0M785.1,265.0h11M785.1,315.0h11M792.6,254.2V308.8M787.1,254.2h11M787.1,308.8h11M795.0,268.5V298.4M789.5,268.5h11M789.5,298.4h11M818.6,337.2V379.4M813.1,337.2h11M813.1,379.4h11M822.3,341.8V385.0M816.8,341.8h11M816.8,385.0h11M827.8,346.9V375.0M822.3,346.9h11M822.3,375.0h11M831.5,350.1V375.0M826.0,350.1h11M826.0,375.0h11M865.2,369.4V401.0M859.7,369.4h11M859.7,401.0h11M871.8,373.2V401.0M866.3,373.2h11M866.3,401.0h11M878.4,377.0V401.0M872.9,377.0h11M872.9,401.0h11M901.1,372.9V401.0M895.6,372.9h11M895.6,401.0h11M906.8,382.7V401.0M901.3,382.7h11M901.3,401.0h11M913.4,385.0V401.0M907.9,385.0h11M907.9,401.0h11" stroke-width="2.0"/>
<circle cx="550.4" cy="24.8" r="5.4" stroke-width="1.5"/>
<circle cx="549.6" cy="44.6" r="5.4" stroke-width="1.5"/>
<circle cx="552.0" cy="60.3" r="5.4" stroke-width="1.5"/>
<circle cx="547.8" cy="66.3" r="5.4" stroke-width="1.5"/>
<circle cx="556.2" cy="67.5" r="5.4" stroke-width="1.5"/>
<circle cx="561.0" cy="74.7" r="5.4" stroke-width="1.5"/>
<circle cx="550.2" cy="79.5" r="5.4" stroke-width="1.5"/>
<circle cx="558.6" cy="92.7" r="5.4" stroke-width="1.5"/>
<circle cx="550.2" cy="89.1" r="5.4" stroke-width="1.5"/>
<circle cx="554.0" cy="52.0" r="5.4" stroke-width="1.5"/>
<circle cx="613.2" cy="79.3" r="5.4" stroke-width="1.5"/>
<circle cx="620.1" cy="93.6" r="5.4" stroke-width="1.5"/>
<circle cx="626.5" cy="107.3" r="5.4" stroke-width="1.5"/>
<circle cx="608.8" cy="115.2" r="5.4" stroke-width="1.5"/>
<circle cx="623.0" cy="129.0" r="5.4" stroke-width="1.5"/>
<circle cx="608.3" cy="134.8" r="5.4" stroke-width="1.5"/>
<circle cx="614.2" cy="140.7" r="5.4" stroke-width="1.5"/>
<circle cx="612.9" cy="100.9" r="5.4" stroke-width="1.5"/>
<circle cx="659.2" cy="78.4" r="5.4" stroke-width="1.5"/>
<circle cx="652.8" cy="99.7" r="5.4" stroke-width="1.5"/>
<circle cx="659.9" cy="101.1" r="5.4" stroke-width="1.5"/>
<circle cx="667.7" cy="101.1" r="5.4" stroke-width="1.5"/>
<circle cx="671.2" cy="128.0" r="5.4" stroke-width="1.5"/>
<circle cx="659.2" cy="162.7" r="5.4" stroke-width="1.5"/>
<circle cx="698.0" cy="119.5" r="5.4" stroke-width="1.5"/>
<circle cx="699.7" cy="130.2" r="5.4" stroke-width="1.5"/>
<circle cx="696.4" cy="153.9" r="5.4" stroke-width="1.5"/>
<circle cx="692.3" cy="170.3" r="5.4" stroke-width="1.5"/>
<circle cx="702.1" cy="172.0" r="5.4" stroke-width="1.5"/>
<circle cx="706.2" cy="158.9" r="5.4" stroke-width="1.5"/>
<circle cx="710.3" cy="168.7" r="5.4" stroke-width="1.5"/>
<circle cx="740.7" cy="194.9" r="5.4" stroke-width="1.5"/>
<circle cx="751.7" cy="222.2" r="5.4" stroke-width="1.5"/>
<circle cx="733.1" cy="231.0" r="5.4" stroke-width="1.5"/>
<circle cx="735.2" cy="252.4" r="5.4" stroke-width="1.5"/>
<circle cx="737.5" cy="221.1" r="5.4" stroke-width="1.5"/>
<circle cx="792.6" cy="271.4" r="5.4" stroke-width="1.5"/>
<circle cx="796.5" cy="282.2" r="5.4" stroke-width="1.5"/>
<circle cx="792.6" cy="295.0" r="5.4" stroke-width="1.5"/>
<circle cx="793.6" cy="303.9" r="5.4" stroke-width="1.5"/>
<circle cx="783.8" cy="307.8" r="5.4" stroke-width="1.5"/>
<circle cx="789.6" cy="274.4" r="5.4" stroke-width="1.5"/>
<circle cx="816.7" cy="359.9" r="5.4" stroke-width="1.5"/>
<circle cx="834.3" cy="360.8" r="5.4" stroke-width="1.5"/>
<circle cx="817.6" cy="369.2" r="5.4" stroke-width="1.5"/>
<circle cx="821.3" cy="364.5" r="5.4" stroke-width="1.5"/>
<circle cx="826.9" cy="357.1" r="5.4" stroke-width="1.5"/>
<circle cx="829.7" cy="372.0" r="5.4" stroke-width="1.5"/>
<circle cx="863.7" cy="380.3" r="5.4" stroke-width="1.5"/>
<circle cx="868.9" cy="385.0" r="5.4" stroke-width="1.5"/>
<circle cx="881.3" cy="386.0" r="5.4" stroke-width="1.5"/>
<circle cx="865.2" cy="395.5" r="5.4" stroke-width="1.5"/>
<circle cx="873.7" cy="396.4" r="5.4" stroke-width="1.5"/>
<circle cx="899.2" cy="385.0" r="5.4" stroke-width="1.5"/>
<circle cx="916.3" cy="396.4" r="5.4" stroke-width="1.5"/>
<circle cx="903.0" cy="398.3" r="5.4" stroke-width="1.5"/>
<circle cx="910.6" cy="399.2" r="5.4" stroke-width="1.5"/>
</g>
<line x1="163.20" y1="404.0" x2="163.20" y2="397.0" stroke="#000" stroke-width="1.2"/>
<line x1="163.20" y1="5.6" x2="163.20" y2="12.6" stroke="#000" stroke-width="1.2"/>
<line x1="276.30" y1="404.0" x2="276.30" y2="397.0" stroke="#000" stroke-width="1.2"/>
<line x1="276.30" y1="5.6" x2="276.30" y2="12.6" stroke="#000" stroke-width="1.2"/>
<line x1="389.40" y1="404.0" x2="389.40" y2="397.0" stroke="#000" stroke-width="1.2"/>
<line x1="389.40" y1="5.6" x2="389.40" y2="12.6" stroke="#000" stroke-width="1.2"/>
<line x1="73.8" y1="335.55" x2="80.8" y2="335.55" stroke="#000" stroke-width="1.2"/>
<line x1="474.4" y1="335.55" x2="467.4" y2="335.55" stroke="#000" stroke-width="1.2"/>
<line x1="73.8" y1="266.80" x2="80.8" y2="266.80" stroke="#000" stroke-width="1.2"/>
<line x1="474.4" y1="266.80" x2="467.4" y2="266.80" stroke="#000" stroke-width="1.2"/>
<line x1="73.8" y1="198.05" x2="80.8" y2="198.05" stroke="#000" stroke-width="1.2"/>
<line x1="474.4" y1="198.05" x2="467.4" y2="198.05" stroke="#000" stroke-width="1.2"/>
<line x1="73.8" y1="129.30" x2="80.8" y2="129.30" stroke="#000" stroke-width="1.2"/>
<line x1="474.4" y1="129.30" x2="467.4" y2="129.30" stroke="#000" stroke-width="1.2"/>
<line x1="73.8" y1="60.55" x2="80.8" y2="60.55" stroke="#000" stroke-width="1.2"/>
<line x1="474.4" y1="60.55" x2="467.4" y2="60.55" stroke="#000" stroke-width="1.2"/>
<line x1="632.20" y1="404.0" x2="632.20" y2="397.0" stroke="#000" stroke-width="1.2"/>
<line x1="632.20" y1="5.6" x2="632.20" y2="12.6" stroke="#000" stroke-width="1.2"/>
<line x1="745.30" y1="404.0" x2="745.30" y2="397.0" stroke="#000" stroke-width="1.2"/>
<line x1="745.30" y1="5.6" x2="745.30" y2="12.6" stroke="#000" stroke-width="1.2"/>
<line x1="858.40" y1="404.0" x2="858.40" y2="397.0" stroke="#000" stroke-width="1.2"/>
<line x1="858.40" y1="5.6" x2="858.40" y2="12.6" stroke="#000" stroke-width="1.2"/>
<line x1="542.8" y1="340.20" x2="549.8" y2="340.20" stroke="#000" stroke-width="1.2"/>
<line x1="943.4" y1="340.20" x2="936.4" y2="340.20" stroke="#000" stroke-width="1.2"/>
<line x1="542.8" y1="276.50" x2="549.8" y2="276.50" stroke="#000" stroke-width="1.2"/>
<line x1="943.4" y1="276.50" x2="936.4" y2="276.50" stroke="#000" stroke-width="1.2"/>
<line x1="542.8" y1="212.80" x2="549.8" y2="212.80" stroke="#000" stroke-width="1.2"/>
<line x1="943.4" y1="212.80" x2="936.4" y2="212.80" stroke="#000" stroke-width="1.2"/>
<line x1="542.8" y1="149.10" x2="549.8" y2="149.10" stroke="#000" stroke-width="1.2"/>
<line x1="943.4" y1="149.10" x2="936.4" y2="149.10" stroke="#000" stroke-width="1.2"/>
<line x1="542.8" y1="85.40" x2="549.8" y2="85.40" stroke="#000" stroke-width="1.2"/>
<line x1="943.4" y1="85.40" x2="936.4" y2="85.40" stroke="#000" stroke-width="1.2"/>
<line x1="542.8" y1="21.70" x2="549.8" y2="21.70" stroke="#000" stroke-width="1.2"/>
<line x1="943.4" y1="21.70" x2="936.4" y2="21.70" stroke="#000" stroke-width="1.2"/>
<line x1="163.20" y1="838.5" x2="163.20" y2="831.5" stroke="#000" stroke-width="1.2"/>
<line x1="163.20" y1="441.0" x2="163.20" y2="448.0" stroke="#000" stroke-width="1.2"/>
<line x1="276.30" y1="838.5" x2="276.30" y2="831.5" stroke="#000" stroke-width="1.2"/>
<line x1="276.30" y1="441.0" x2="276.30" y2="448.0" stroke="#000" stroke-width="1.2"/>
<line x1="389.40" y1="838.5" x2="389.40" y2="831.5" stroke="#000" stroke-width="1.2"/>
<line x1="389.40" y1="441.0" x2="389.40" y2="448.0" stroke="#000" stroke-width="1.2"/>
<line x1="73.8" y1="838.50" x2="80.8" y2="838.50" stroke="#000" stroke-width="1.2"/>
<line x1="474.0" y1="838.50" x2="467.0" y2="838.50" stroke="#000" stroke-width="1.2"/>
<line x1="73.8" y1="798.61" x2="77.8" y2="798.61" stroke="#000" stroke-width="1.2"/>
<line x1="474.0" y1="798.61" x2="470.0" y2="798.61" stroke="#000" stroke-width="1.2"/>
<line x1="73.8" y1="775.28" x2="77.8" y2="775.28" stroke="#000" stroke-width="1.2"/>
<line x1="474.0" y1="775.28" x2="470.0" y2="775.28" stroke="#000" stroke-width="1.2"/>
<line x1="73.8" y1="758.73" x2="77.8" y2="758.73" stroke="#000" stroke-width="1.2"/>
<line x1="474.0" y1="758.73" x2="470.0" y2="758.73" stroke="#000" stroke-width="1.2"/>
<line x1="73.8" y1="745.89" x2="77.8" y2="745.89" stroke="#000" stroke-width="1.2"/>
<line x1="474.0" y1="745.89" x2="470.0" y2="745.89" stroke="#000" stroke-width="1.2"/>
<line x1="73.8" y1="735.39" x2="77.8" y2="735.39" stroke="#000" stroke-width="1.2"/>
<line x1="474.0" y1="735.39" x2="470.0" y2="735.39" stroke="#000" stroke-width="1.2"/>
<line x1="73.8" y1="726.52" x2="77.8" y2="726.52" stroke="#000" stroke-width="1.2"/>
<line x1="474.0" y1="726.52" x2="470.0" y2="726.52" stroke="#000" stroke-width="1.2"/>
<line x1="73.8" y1="718.84" x2="77.8" y2="718.84" stroke="#000" stroke-width="1.2"/>
<line x1="474.0" y1="718.84" x2="470.0" y2="718.84" stroke="#000" stroke-width="1.2"/>
<line x1="73.8" y1="712.06" x2="77.8" y2="712.06" stroke="#000" stroke-width="1.2"/>
<line x1="474.0" y1="712.06" x2="470.0" y2="712.06" stroke="#000" stroke-width="1.2"/>
<line x1="73.8" y1="706.00" x2="80.8" y2="706.00" stroke="#000" stroke-width="1.2"/>
<line x1="474.0" y1="706.00" x2="467.0" y2="706.00" stroke="#000" stroke-width="1.2"/>
<line x1="73.8" y1="666.11" x2="77.8" y2="666.11" stroke="#000" stroke-width="1.2"/>
<line x1="474.0" y1="666.11" x2="470.0" y2="666.11" stroke="#000" stroke-width="1.2"/>
<line x1="73.8" y1="642.78" x2="77.8" y2="642.78" stroke="#000" stroke-width="1.2"/>
<line x1="474.0" y1="642.78" x2="470.0" y2="642.78" stroke="#000" stroke-width="1.2"/>
<line x1="73.8" y1="626.23" x2="77.8" y2="626.23" stroke="#000" stroke-width="1.2"/>
<line x1="474.0" y1="626.23" x2="470.0" y2="626.23" stroke="#000" stroke-width="1.2"/>
<line x1="73.8" y1="613.39" x2="77.8" y2="613.39" stroke="#000" stroke-width="1.2"/>
<line x1="474.0" y1="613.39" x2="470.0" y2="613.39" stroke="#000" stroke-width="1.2"/>
<line x1="73.8" y1="602.89" x2="77.8" y2="602.89" stroke="#000" stroke-width="1.2"/>
<line x1="474.0" y1="602.89" x2="470.0" y2="602.89" stroke="#000" stroke-width="1.2"/>
<line x1="73.8" y1="594.02" x2="77.8" y2="594.02" stroke="#000" stroke-width="1.2"/>
<line x1="474.0" y1="594.02" x2="470.0" y2="594.02" stroke="#000" stroke-width="1.2"/>
<line x1="73.8" y1="586.34" x2="77.8" y2="586.34" stroke="#000" stroke-width="1.2"/>
<line x1="474.0" y1="586.34" x2="470.0" y2="586.34" stroke="#000" stroke-width="1.2"/>
<line x1="73.8" y1="579.56" x2="77.8" y2="579.56" stroke="#000" stroke-width="1.2"/>
<line x1="474.0" y1="579.56" x2="470.0" y2="579.56" stroke="#000" stroke-width="1.2"/>
<line x1="73.8" y1="573.50" x2="80.8" y2="573.50" stroke="#000" stroke-width="1.2"/>
<line x1="474.0" y1="573.50" x2="467.0" y2="573.50" stroke="#000" stroke-width="1.2"/>
<line x1="73.8" y1="533.61" x2="77.8" y2="533.61" stroke="#000" stroke-width="1.2"/>
<line x1="474.0" y1="533.61" x2="470.0" y2="533.61" stroke="#000" stroke-width="1.2"/>
<line x1="73.8" y1="510.28" x2="77.8" y2="510.28" stroke="#000" stroke-width="1.2"/>
<line x1="474.0" y1="510.28" x2="470.0" y2="510.28" stroke="#000" stroke-width="1.2"/>
<line x1="73.8" y1="493.73" x2="77.8" y2="493.73" stroke="#000" stroke-width="1.2"/>
<line x1="474.0" y1="493.73" x2="470.0" y2="493.73" stroke="#000" stroke-width="1.2"/>
<line x1="73.8" y1="480.89" x2="77.8" y2="480.89" stroke="#000" stroke-width="1.2"/>
<line x1="474.0" y1="480.89" x2="470.0" y2="480.89" stroke="#000" stroke-width="1.2"/>
<line x1="73.8" y1="470.39" x2="77.8" y2="470.39" stroke="#000" stroke-width="1.2"/>
<line x1="474.0" y1="470.39" x2="470.0" y2="470.39" stroke="#000" stroke-width="1.2"/>
<line x1="73.8" y1="461.52" x2="77.8" y2="461.52" stroke="#000" stroke-width="1.2"/>
<line x1="474.0" y1="461.52" x2="470.0" y2="461.52" stroke="#000" stroke-width="1.2"/>
<line x1="73.8" y1="453.84" x2="77.8" y2="453.84" stroke="#000" stroke-width="1.2"/>
<line x1="474.0" y1="453.84" x2="470.0" y2="453.84" stroke="#000" stroke-width="1.2"/>
<line x1="73.8" y1="447.06" x2="77.8" y2="447.06" stroke="#000" stroke-width="1.2"/>
<line x1="474.0" y1="447.06" x2="470.0" y2="447.06" stroke="#000" stroke-width="1.2"/>
<line x1="73.8" y1="441.00" x2="80.8" y2="441.00" stroke="#000" stroke-width="1.2"/>
<line x1="474.0" y1="441.00" x2="467.0" y2="441.00" stroke="#000" stroke-width="1.2"/>
<line x1="632.20" y1="838.5" x2="632.20" y2="831.5" stroke="#000" stroke-width="1.2"/>
<line x1="632.20" y1="441.0" x2="632.20" y2="448.0" stroke="#000" stroke-width="1.2"/>
<line x1="745.30" y1="838.5" x2="745.30" y2="831.5" stroke="#000" stroke-width="1.2"/>
<line x1="745.30" y1="441.0" x2="745.30" y2="448.0" stroke="#000" stroke-width="1.2"/>
<line x1="858.40" y1="838.5" x2="858.40" y2="831.5" stroke="#000" stroke-width="1.2"/>
<line x1="858.40" y1="441.0" x2="858.40" y2="448.0" stroke="#000" stroke-width="1.2"/>
<line x1="543.6" y1="838.50" x2="550.6" y2="838.50" stroke="#000" stroke-width="1.2"/>
<line x1="943.6" y1="838.50" x2="936.6" y2="838.50" stroke="#000" stroke-width="1.2"/>
<line x1="543.6" y1="798.61" x2="547.6" y2="798.61" stroke="#000" stroke-width="1.2"/>
<line x1="943.6" y1="798.61" x2="939.6" y2="798.61" stroke="#000" stroke-width="1.2"/>
<line x1="543.6" y1="775.28" x2="547.6" y2="775.28" stroke="#000" stroke-width="1.2"/>
<line x1="943.6" y1="775.28" x2="939.6" y2="775.28" stroke="#000" stroke-width="1.2"/>
<line x1="543.6" y1="758.73" x2="547.6" y2="758.73" stroke="#000" stroke-width="1.2"/>
<line x1="943.6" y1="758.73" x2="939.6" y2="758.73" stroke="#000" stroke-width="1.2"/>
<line x1="543.6" y1="745.89" x2="547.6" y2="745.89" stroke="#000" stroke-width="1.2"/>
<line x1="943.6" y1="745.89" x2="939.6" y2="745.89" stroke="#000" stroke-width="1.2"/>
<line x1="543.6" y1="735.39" x2="547.6" y2="735.39" stroke="#000" stroke-width="1.2"/>
<line x1="943.6" y1="735.39" x2="939.6" y2="735.39" stroke="#000" stroke-width="1.2"/>
<line x1="543.6" y1="726.52" x2="547.6" y2="726.52" stroke="#000" stroke-width="1.2"/>
<line x1="943.6" y1="726.52" x2="939.6" y2="726.52" stroke="#000" stroke-width="1.2"/>
<line x1="543.6" y1="718.84" x2="547.6" y2="718.84" stroke="#000" stroke-width="1.2"/>
<line x1="943.6" y1="718.84" x2="939.6" y2="718.84" stroke="#000" stroke-width="1.2"/>
<line x1="543.6" y1="712.06" x2="547.6" y2="712.06" stroke="#000" stroke-width="1.2"/>
<line x1="943.6" y1="712.06" x2="939.6" y2="712.06" stroke="#000" stroke-width="1.2"/>
<line x1="543.6" y1="706.00" x2="550.6" y2="706.00" stroke="#000" stroke-width="1.2"/>
<line x1="943.6" y1="706.00" x2="936.6" y2="706.00" stroke="#000" stroke-width="1.2"/>
<line x1="543.6" y1="666.11" x2="547.6" y2="666.11" stroke="#000" stroke-width="1.2"/>
<line x1="943.6" y1="666.11" x2="939.6" y2="666.11" stroke="#000" stroke-width="1.2"/>
<line x1="543.6" y1="642.78" x2="547.6" y2="642.78" stroke="#000" stroke-width="1.2"/>
<line x1="943.6" y1="642.78" x2="939.6" y2="642.78" stroke="#000" stroke-width="1.2"/>
<line x1="543.6" y1="626.23" x2="547.6" y2="626.23" stroke="#000" stroke-width="1.2"/>
<line x1="943.6" y1="626.23" x2="939.6" y2="626.23" stroke="#000" stroke-width="1.2"/>
<line x1="543.6" y1="613.39" x2="547.6" y2="613.39" stroke="#000" stroke-width="1.2"/>
<line x1="943.6" y1="613.39" x2="939.6" y2="613.39" stroke="#000" stroke-width="1.2"/>
<line x1="543.6" y1="602.89" x2="547.6" y2="602.89" stroke="#000" stroke-width="1.2"/>
<line x1="943.6" y1="602.89" x2="939.6" y2="602.89" stroke="#000" stroke-width="1.2"/>
<line x1="543.6" y1="594.02" x2="547.6" y2="594.02" stroke="#000" stroke-width="1.2"/>
<line x1="943.6" y1="594.02" x2="939.6" y2="594.02" stroke="#000" stroke-width="1.2"/>
<line x1="543.6" y1="586.34" x2="547.6" y2="586.34" stroke="#000" stroke-width="1.2"/>
<line x1="943.6" y1="586.34" x2="939.6" y2="586.34" stroke="#000" stroke-width="1.2"/>
<line x1="543.6" y1="579.56" x2="547.6" y2="579.56" stroke="#000" stroke-width="1.2"/>
<line x1="943.6" y1="579.56" x2="939.6" y2="579.56" stroke="#000" stroke-width="1.2"/>
<line x1="543.6" y1="573.50" x2="550.6" y2="573.50" stroke="#000" stroke-width="1.2"/>
<line x1="943.6" y1="573.50" x2="936.6" y2="573.50" stroke="#000" stroke-width="1.2"/>
<line x1="543.6" y1="533.61" x2="547.6" y2="533.61" stroke="#000" stroke-width="1.2"/>
<line x1="943.6" y1="533.61" x2="939.6" y2="533.61" stroke="#000" stroke-width="1.2"/>
<line x1="543.6" y1="510.28" x2="547.6" y2="510.28" stroke="#000" stroke-width="1.2"/>
<line x1="943.6" y1="510.28" x2="939.6" y2="510.28" stroke="#000" stroke-width="1.2"/>
<line x1="543.6" y1="493.73" x2="547.6" y2="493.73" stroke="#000" stroke-width="1.2"/>
<line x1="943.6" y1="493.73" x2="939.6" y2="493.73" stroke="#000" stroke-width="1.2"/>
<line x1="543.6" y1="480.89" x2="547.6" y2="480.89" stroke="#000" stroke-width="1.2"/>
<line x1="943.6" y1="480.89" x2="939.6" y2="480.89" stroke="#000" stroke-width="1.2"/>
<line x1="543.6" y1="470.39" x2="547.6" y2="470.39" stroke="#000" stroke-width="1.2"/>
<line x1="943.6" y1="470.39" x2="939.6" y2="470.39" stroke="#000" stroke-width="1.2"/>
<line x1="543.6" y1="461.52" x2="547.6" y2="461.52" stroke="#000" stroke-width="1.2"/>
<line x1="943.6" y1="461.52" x2="939.6" y2="461.52" stroke="#000" stroke-width="1.2"/>
<line x1="543.6" y1="453.84" x2="547.6" y2="453.84" stroke="#000" stroke-width="1.2"/>
<line x1="943.6" y1="453.84" x2="939.6" y2="453.84" stroke="#000" stroke-width="1.2"/>
<line x1="543.6" y1="447.06" x2="547.6" y2="447.06" stroke="#000" stroke-width="1.2"/>
<line x1="943.6" y1="447.06" x2="939.6" y2="447.06" stroke="#000" stroke-width="1.2"/>
<line x1="543.6" y1="441.00" x2="550.6" y2="441.00" stroke="#000" stroke-width="1.2"/>
<line x1="943.6" y1="441.00" x2="936.6" y2="441.00" stroke="#000" stroke-width="1.2"/>
<rect x="73.8" y="5.6" width="400.60" height="398.40" fill="none" stroke="#000" stroke-width="2.1"/>
<rect x="542.8" y="5.6" width="400.60" height="398.40" fill="none" stroke="#000" stroke-width="2.1"/>
<rect x="73.8" y="441.0" width="400.20" height="397.50" fill="none" stroke="#000" stroke-width="2.1"/>
<rect x="543.6" y="441.0" width="400.00" height="397.50" fill="none" stroke="#000" stroke-width="2.1"/>
<text transform="translate(51.40,67.26) scale(1.1150,1)" font-family="Liberation Sans" font-weight="bold" font-size="23.86" fill="#000">5</text>
<text transform="translate(51.83,137.10) scale(1.0271,1)" font-family="Liberation Sans" font-weight="bold" font-size="24.20" fill="#000">4</text>
<text transform="translate(51.74,205.46) scale(1.1251,1)" font-family="Liberation Sans" font-weight="bold" font-size="23.52" fill="#000">3</text>
<text transform="translate(51.67,274.30) scale(1.0853,1)" font-family="Liberation Sans" font-weight="bold" font-size="24.57" fill="#000">2</text>
<text transform="translate(52.85,342.30) scale(0.7727,1)" font-family="Liberation Sans" font-weight="bold" font-size="24.78" fill="#000">1</text>
<text transform="translate(501.64,29.70) scale(1.0853,1)" font-family="Liberation Sans" font-weight="bold" font-size="22.43" fill="#000">1.2</text>
<text transform="translate(501.58,91.48) scale(1.1428,1)" font-family="Liberation Sans" font-weight="bold" font-size="22.11" fill="#000">1.0</text>
<text transform="translate(501.60,156.98) scale(1.1268,1)" font-family="Liberation Sans" font-weight="bold" font-size="22.25" fill="#000">0.8</text>
<text transform="translate(501.29,220.67) scale(1.0964,1)" font-family="Liberation Sans" font-weight="bold" font-size="22.96" fill="#000">0.6</text>
<text transform="translate(501.32,283.98) scale(1.1059,1)" font-family="Liberation Sans" font-weight="bold" font-size="22.25" fill="#000">0.4</text>
<text transform="translate(501.29,347.78) scale(1.1354,1)" font-family="Liberation Sans" font-weight="bold" font-size="22.25" fill="#000">0.2</text>
<text transform="translate(52.29,448.90) scale(0.7924,1)" font-family="Liberation Sans" font-weight="bold" font-size="25.51" fill="#000">1</text>
<text transform="translate(31.99,580.96) scale(0.9722,1)" font-family="Liberation Sans" font-weight="bold" font-size="23.52" fill="#000">0.1</text>
<text transform="translate(17.65,712.87) scale(1.0357,1)" font-family="Liberation Sans" font-weight="bold" font-size="22.96" fill="#000">0.01</text>
<text transform="translate(3.63,843.98) scale(1.0925,1)" font-family="Liberation Sans" font-weight="bold" font-size="22.25" fill="#000">0.001</text>
<text transform="translate(495.82,449.27) scale(1.0586,1)" font-family="Liberation Sans" font-weight="bold" font-size="23.24" fill="#000">100</text>
<text transform="translate(508.69,581.65) scale(1.0302,1)" font-family="Liberation Sans" font-weight="bold" font-size="24.51" fill="#000">10</text>
<text transform="translate(525.33,714.70) scale(0.8603,1)" font-family="Liberation Sans" font-weight="bold" font-size="22.75" fill="#000">1</text>
<text transform="translate(503.25,843.78) scale(1.0751,1)" font-family="Liberation Sans" font-weight="bold" font-size="22.11" fill="#000">0.1</text>
<text transform="translate(137.78,860.56) scale(1.0475,1)" font-family="Liberation Sans" font-weight="bold" font-size="24.37" fill="#000">0.92</text>
<text transform="translate(250.69,863.37) scale(1.0907,1)" font-family="Liberation Sans" font-weight="bold" font-size="23.24" fill="#000">0.96</text>
<text transform="translate(367.32,863.37) scale(1.0875,1)" font-family="Liberation Sans" font-weight="bold" font-size="22.68" fill="#000">1.00</text>
<text transform="translate(606.20,862.37) scale(1.1066,1)" font-family="Liberation Sans" font-weight="bold" font-size="22.68" fill="#000">0.92</text>
<text transform="translate(718.69,866.16) scale(1.0777,1)" font-family="Liberation Sans" font-weight="bold" font-size="23.52" fill="#000">0.96</text>
<text transform="translate(835.61,865.07) scale(1.0617,1)" font-family="Liberation Sans" font-weight="bold" font-size="23.38" fill="#000">1.00</text>
<text transform="translate(264.12,890.35) scale(1.2747,1)" font-family="Liberation Serif" font-weight="normal" font-size="25.37" fill="#000">ψ</text>
<text transform="translate(283.59,908.10) scale(1.0464,1)" font-family="Liberation Sans" font-weight="bold" font-size="19.28" fill="#000">N</text>
<text transform="translate(733.15,892.59) scale(1.1495,1)" font-family="Liberation Serif" font-weight="normal" font-size="26.10" fill="#000">ψ</text>
<text transform="translate(751.70,910.40) scale(1.1167,1)" font-family="Liberation Sans" font-weight="bold" font-size="19.28" fill="#000">N</text>
<text transform="translate(86.63,385.03) scale(0.9906,1)" font-family="Liberation Sans" font-weight="bold" font-size="31.76" fill="#000">(a)</text>
<text transform="translate(134.59,384.70) scale(1.1701,1)" font-family="Liberation Sans" font-weight="bold" font-size="29.07" fill="#000">n</text>
<text transform="translate(155.40,390.16) scale(1.0417,1)" font-family="Liberation Sans" font-weight="bold" font-size="24.00" fill="#000">e</text>
<text transform="translate(181.01,384.67) scale(1.0058,1)" font-family="Liberation Sans" font-weight="bold" font-size="31.55" fill="#000">(10</text>
<text transform="translate(226.60,371.70) scale(1.2376,1)" font-family="Liberation Sans" font-weight="bold" font-size="20.14" fill="#000">19</text>
<text transform="translate(263.93,385.40) scale(1.1961,1)" font-family="Liberation Sans" font-weight="bold" font-size="26.67" fill="#000">m</text>
<text transform="translate(291.11,371.70) scale(1.2306,1)" font-family="Liberation Sans" font-weight="bold" font-size="20.14" fill="#000">-3</text>
<text transform="translate(319.90,384.67) scale(0.8452,1)" font-family="Liberation Sans" font-weight="bold" font-size="31.55" fill="#000">)</text>
<text transform="translate(556.72,385.26) scale(1.0459,1)" font-family="Liberation Sans" font-weight="bold" font-size="32.09" fill="#000">(b)</text>
<text transform="translate(608.08,385.00) scale(1.0165,1)" font-family="Liberation Sans" font-weight="bold" font-size="31.01" fill="#000">T</text>
<text transform="translate(628.00,392.76) scale(1.0261,1)" font-family="Liberation Sans" font-weight="bold" font-size="24.36" fill="#000">e</text>
<text transform="translate(653.38,385.26) scale(1.0101,1)" font-family="Liberation Sans" font-weight="bold" font-size="32.09" fill="#000">(keV)</text>
<text transform="translate(89.40,820.26) scale(0.9973,1)" font-family="Liberation Sans" font-weight="bold" font-size="32.09" fill="#000">(c)</text>
<text transform="translate(136.93,820.00) scale(1.1574,1)" font-family="Liberation Sans" font-weight="bold" font-size="27.54" fill="#000">D</text>
<text transform="translate(169.75,820.26) scale(0.7792,1)" font-family="Liberation Sans" font-weight="bold" font-size="32.09" fill="#000">(</text>
<text transform="translate(178.36,820.00) scale(1.3311,1)" font-family="Liberation Sans" font-weight="bold" font-size="25.93" fill="#000">m</text>
<text transform="translate(212.20,809.00) scale(1.3368,1)" font-family="Liberation Sans" font-weight="bold" font-size="17.14" fill="#000">2</text>
<text transform="translate(224.65,821.33) scale(1.0315,1)" font-family="Liberation Sans" font-weight="bold" font-size="33.56" fill="#000">/</text>
<text transform="translate(234.22,820.04) scale(1.4022,1)" font-family="Liberation Sans" font-weight="bold" font-size="26.00" fill="#000">s</text>
<text transform="translate(256.00,820.26) scale(0.7655,1)" font-family="Liberation Sans" font-weight="bold" font-size="32.09" fill="#000">)</text>
<text transform="translate(557.19,479.15) scale(0.9846,1)" font-family="Liberation Sans" font-weight="bold" font-size="32.62" fill="#000">(d)</text>
<text transform="translate(607.90,478.63) scale(1.2886,1)" font-family="Liberation Serif" font-weight="normal" font-size="29.63" fill="#000">χ</text>
<text transform="translate(626.76,492.19) scale(1.3533,1)" font-family="Liberation Sans" font-weight="bold" font-size="21.09" fill="#000">e</text>
<text transform="translate(651.90,479.15) scale(0.7992,1)" font-family="Liberation Sans" font-weight="bold" font-size="32.62" fill="#000">(</text>
<text transform="translate(660.27,479.70) scale(1.3157,1)" font-family="Liberation Sans" font-weight="bold" font-size="27.22" fill="#000">m</text>
<text transform="translate(694.53,467.10) scale(1.2153,1)" font-family="Liberation Sans" font-weight="bold" font-size="18.00" fill="#000">2</text>
<text transform="translate(706.45,480.32) scale(1.0338,1)" font-family="Liberation Sans" font-weight="bold" font-size="34.23" fill="#000">/</text>
<text transform="translate(716.31,479.63) scale(1.3612,1)" font-family="Liberation Sans" font-weight="bold" font-size="27.09" fill="#000">s</text>
<text transform="translate(736.30,479.15) scale(0.7960,1)" font-family="Liberation Sans" font-weight="bold" font-size="32.62" fill="#000">)</text>
<text transform="translate(707.52,40.60) scale(1.1582,1)" font-family="Liberation Sans" font-weight="bold" font-size="17.00" fill="#000">DIII-D 180344 @ 2300 ms</text>
<text transform="translate(79.56,245.00) scale(1.0528,1)" font-family="Liberation Sans" font-weight="bold" font-size="20.40" fill="#a800bf">5/3* Pumped Particle Flux</text>
<text transform="translate(79.88,264.60) scale(1.0503,1)" font-family="Liberation Sans" font-weight="bold" font-size="20.40" fill="#1fb3b3">4/3* Pumped Particle Flux</text>
<text transform="translate(79.19,285.20) scale(1.1252,1)" font-family="Liberation Sans" font-weight="bold" font-size="20.60" fill="#ff0000">Pumped Particle Flux</text>
<text transform="translate(79.45,304.70) scale(1.0520,1)" font-family="Liberation Sans" font-weight="bold" font-size="20.40" fill="#007d00">2/3* Pumped Particle Flux</text>
<text transform="translate(80.01,324.80) scale(1.0509,1)" font-family="Liberation Sans" font-weight="bold" font-size="20.40" fill="#0000e8">1/3* Pumped Particle Flux</text>
<text transform="translate(132.20,595.40) scale(1.0537,1)" font-family="Liberation Sans" font-weight="bold" font-size="20.50" fill="#555">Increasing</text>
<text transform="translate(125.41,621.00) scale(1.0461,1)" font-family="Liberation Sans" font-weight="bold" font-size="20.50" fill="#555">particle flux</text>
</svg>
</body></html>
